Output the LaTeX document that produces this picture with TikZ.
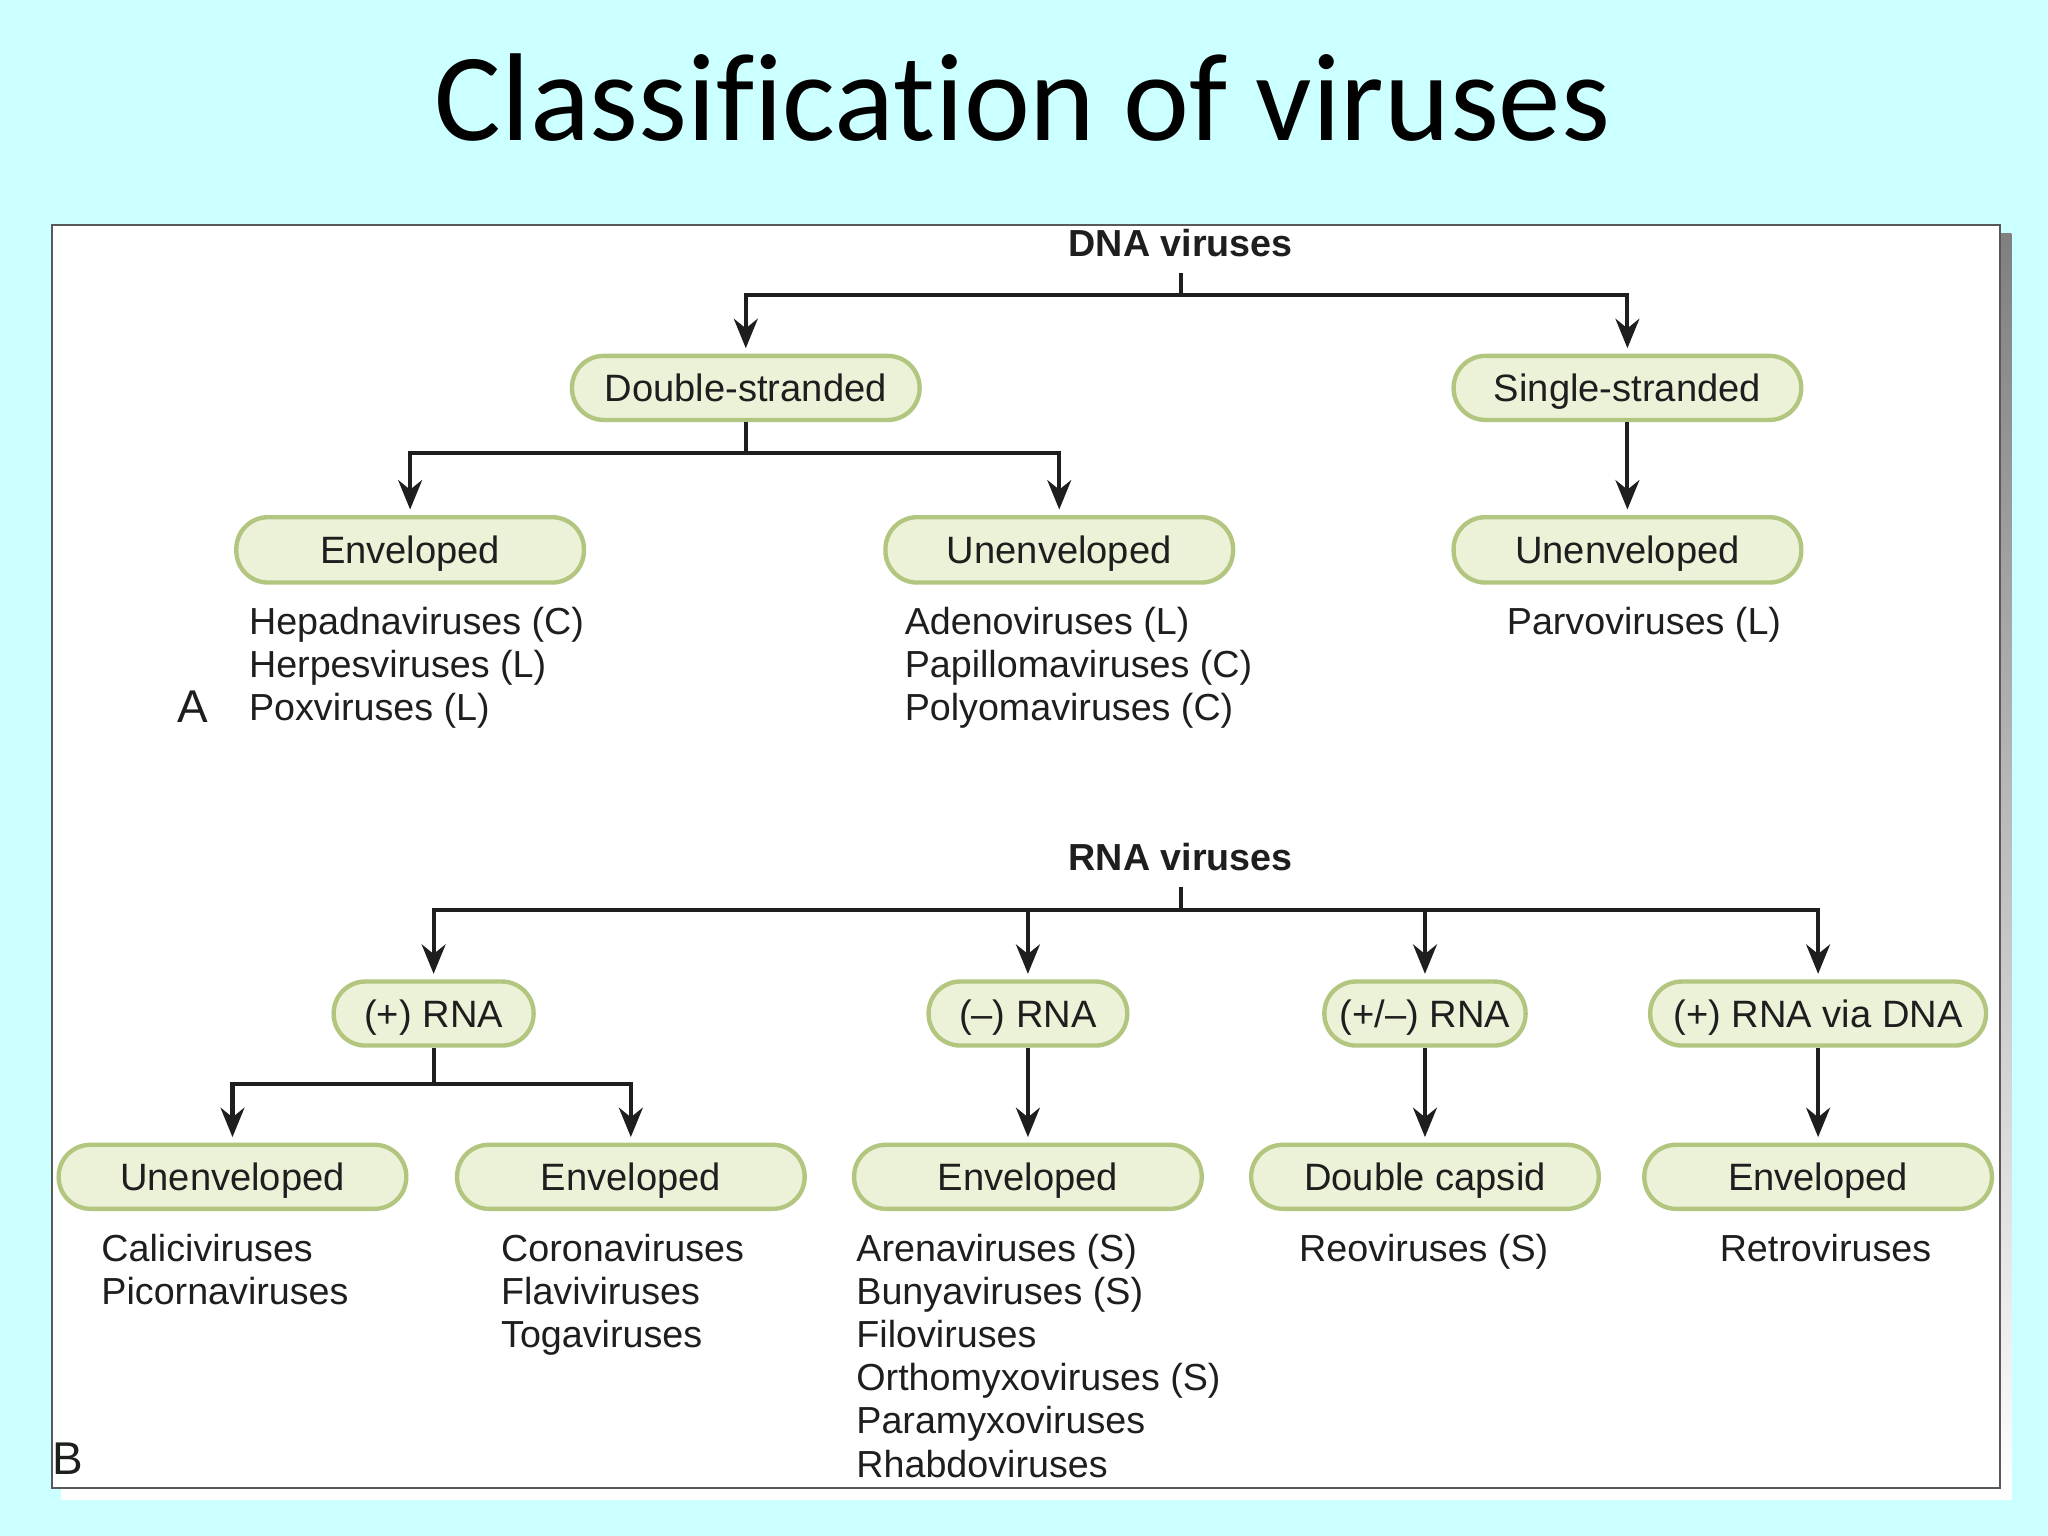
\documentclass[tikz,border=0pt]{standalone}
\usepackage{fontspec}
\setmainfont{Liberation Sans}
\newfontfamily\titlefont[Ligatures=NoCommon]{Carlito}
\usetikzlibrary{positioning, arrows.meta}
\definecolor{slide}{RGB}{204,255,255}
\definecolor{shade}{RGB}{128,162,162}
\definecolor{pillfill}{RGB}{236,242,216}
\definecolor{pillline}{RGB}{178,198,128}
\definecolor{ink}{RGB}{30,30,30}
\tikzset{>={Stealth[length=6.4pt,width=5.2pt]},
pillbox/.style={draw=pillline, fill=pillfill, line width=0.95pt, rounded corners=6.9pt, minimum width=2.66cm, minimum height=0.49cm, inner sep=0pt, text height=5.9pt, text depth=0pt, text=ink, font=\fontsize{8.3}{9.4}\selectfont},
namelist/.style={align=left, anchor=north west, inner sep=0pt, text=ink, font=\fontsize{8.2}{9.4}\selectfont},
rootlabel/.style={text=ink, font=\bfseries\fontsize{8.2}{9.4}\selectfont},
partlabel/.style={text=ink, font=\fontsize{10}{12}\selectfont},
link/.style={line width=0.9pt, draw=ink},
arrowlink/.style={link, ->, shorten >=1.2pt},
}

\begin{document}
\begin{tikzpicture}[x=0.01cm, y=-0.01cm]
\useasboundingbox (0,0) rectangle (1568,1176);
\fill[slide] (0,0) rectangle (1568,1176);
\node[font=\titlefont\fontsize{27.2}{32}\selectfont] (title) at (783,75) {Classification of viruses};
\fill[shade] (47,179) rectangle (1540,1148);
\draw[fill=white, draw=black!65, line width=0.5pt] (40,172) rectangle (1531,1139);

\node[rootlabel] (dna) at (904,186) {DNA viruses};
\node[pillbox] (ds) at (571,297) {Double-stranded};
\node[pillbox] (ss) at (1246,297) {Single-stranded};
\node[pillbox, minimum height=0.5cm] (denv) at (314,421) {Enveloped};
\node[pillbox, minimum height=0.5cm] (dunenv) at (811,421) {Unenveloped};
\node[pillbox, minimum height=0.5cm] (sunenv) at (1246,421) {Unenveloped};
\coordinate (dnaj) at (904,226);
\coordinate (dsj) at (571,347);
\draw[link] (dna) -- (dnaj);
\draw[arrowlink] (dnaj) -| (ds);
\draw[arrowlink] (dnaj) -| (ss);
\draw[link] (ds) -- (dsj);
\draw[arrowlink] (dsj) -| (denv);
\draw[arrowlink] (dsj) -| (dunenv);
\draw[arrowlink] (ss) -- (sunenv);
\node[namelist] (dlist1) at (190,464) {Hepadnaviruses (C)\\Herpesviruses (L)\\Poxviruses (L)};
\node[namelist] (dlist2) at (692,464) {Adenoviruses (L)\\Papillomaviruses (C)\\Polyomaviruses (C)};
\node[namelist] (dlist3) at (1153,464) {Parvoviruses (L)};
\node[partlabel] (parta) at (148,541) {A};

\node[rootlabel] (rna) at (904,656) {RNA viruses};
\node[pillbox, minimum width=1.53cm] (plus) at (332,776) {(+) RNA};
\node[pillbox, minimum width=1.52cm] (minus) at (787,776) {(–) RNA};
\node[pillbox, minimum width=1.54cm] (pm) at (1091,776) {(+/–) RNA};
\node[pillbox, minimum width=2.57cm] (viadna) at (1392,776) {(+) RNA via DNA};
\node[pillbox] (runenv) at (178,901) {Unenveloped};
\node[pillbox] (renv1) at (483,901) {Enveloped};
\node[pillbox] (renv2) at (787,901) {Enveloped};
\node[pillbox] (dcap) at (1091,901) {Double capsid};
\node[pillbox] (renv3) at (1392,901) {Enveloped};
\coordinate (rnaj) at (904,697);
\coordinate (plusj) at (332,830);
\draw[link] (rna) -- (rnaj);
\draw[arrowlink] (rnaj) -| (plus);
\draw[arrowlink] (rnaj) -| (minus);
\draw[arrowlink] (rnaj) -| (pm);
\draw[arrowlink] (rnaj) -| (viadna);
\draw[link] (plus) -- (plusj);
\draw[arrowlink] (plusj) -| (runenv);
\draw[arrowlink] (plusj) -| (renv1);
\draw[arrowlink] (minus) -- (renv2);
\draw[arrowlink] (pm) -- (dcap);
\draw[arrowlink] (viadna) -- (renv3);
\node[namelist] (rlist1) at (77,944) {Caliciviruses\\Picornaviruses};
\node[namelist] (rlist2) at (383,944) {Coronaviruses\\Flaviviruses\\Togaviruses};
\node[namelist] (rlist3) at (655,944) {Arenaviruses (S)\\Bunyaviruses (S)\\Filoviruses\\Orthomyxoviruses (S)\\Paramyxoviruses\\Rhabdoviruses};
\node[namelist] (rlist4) at (994,944) {Reoviruses (S)};
\node[namelist] (rlist5) at (1316,944) {Retroviruses};
\node[partlabel] (partb) at (52,1117) {B};
\end{tikzpicture}
\end{document}
